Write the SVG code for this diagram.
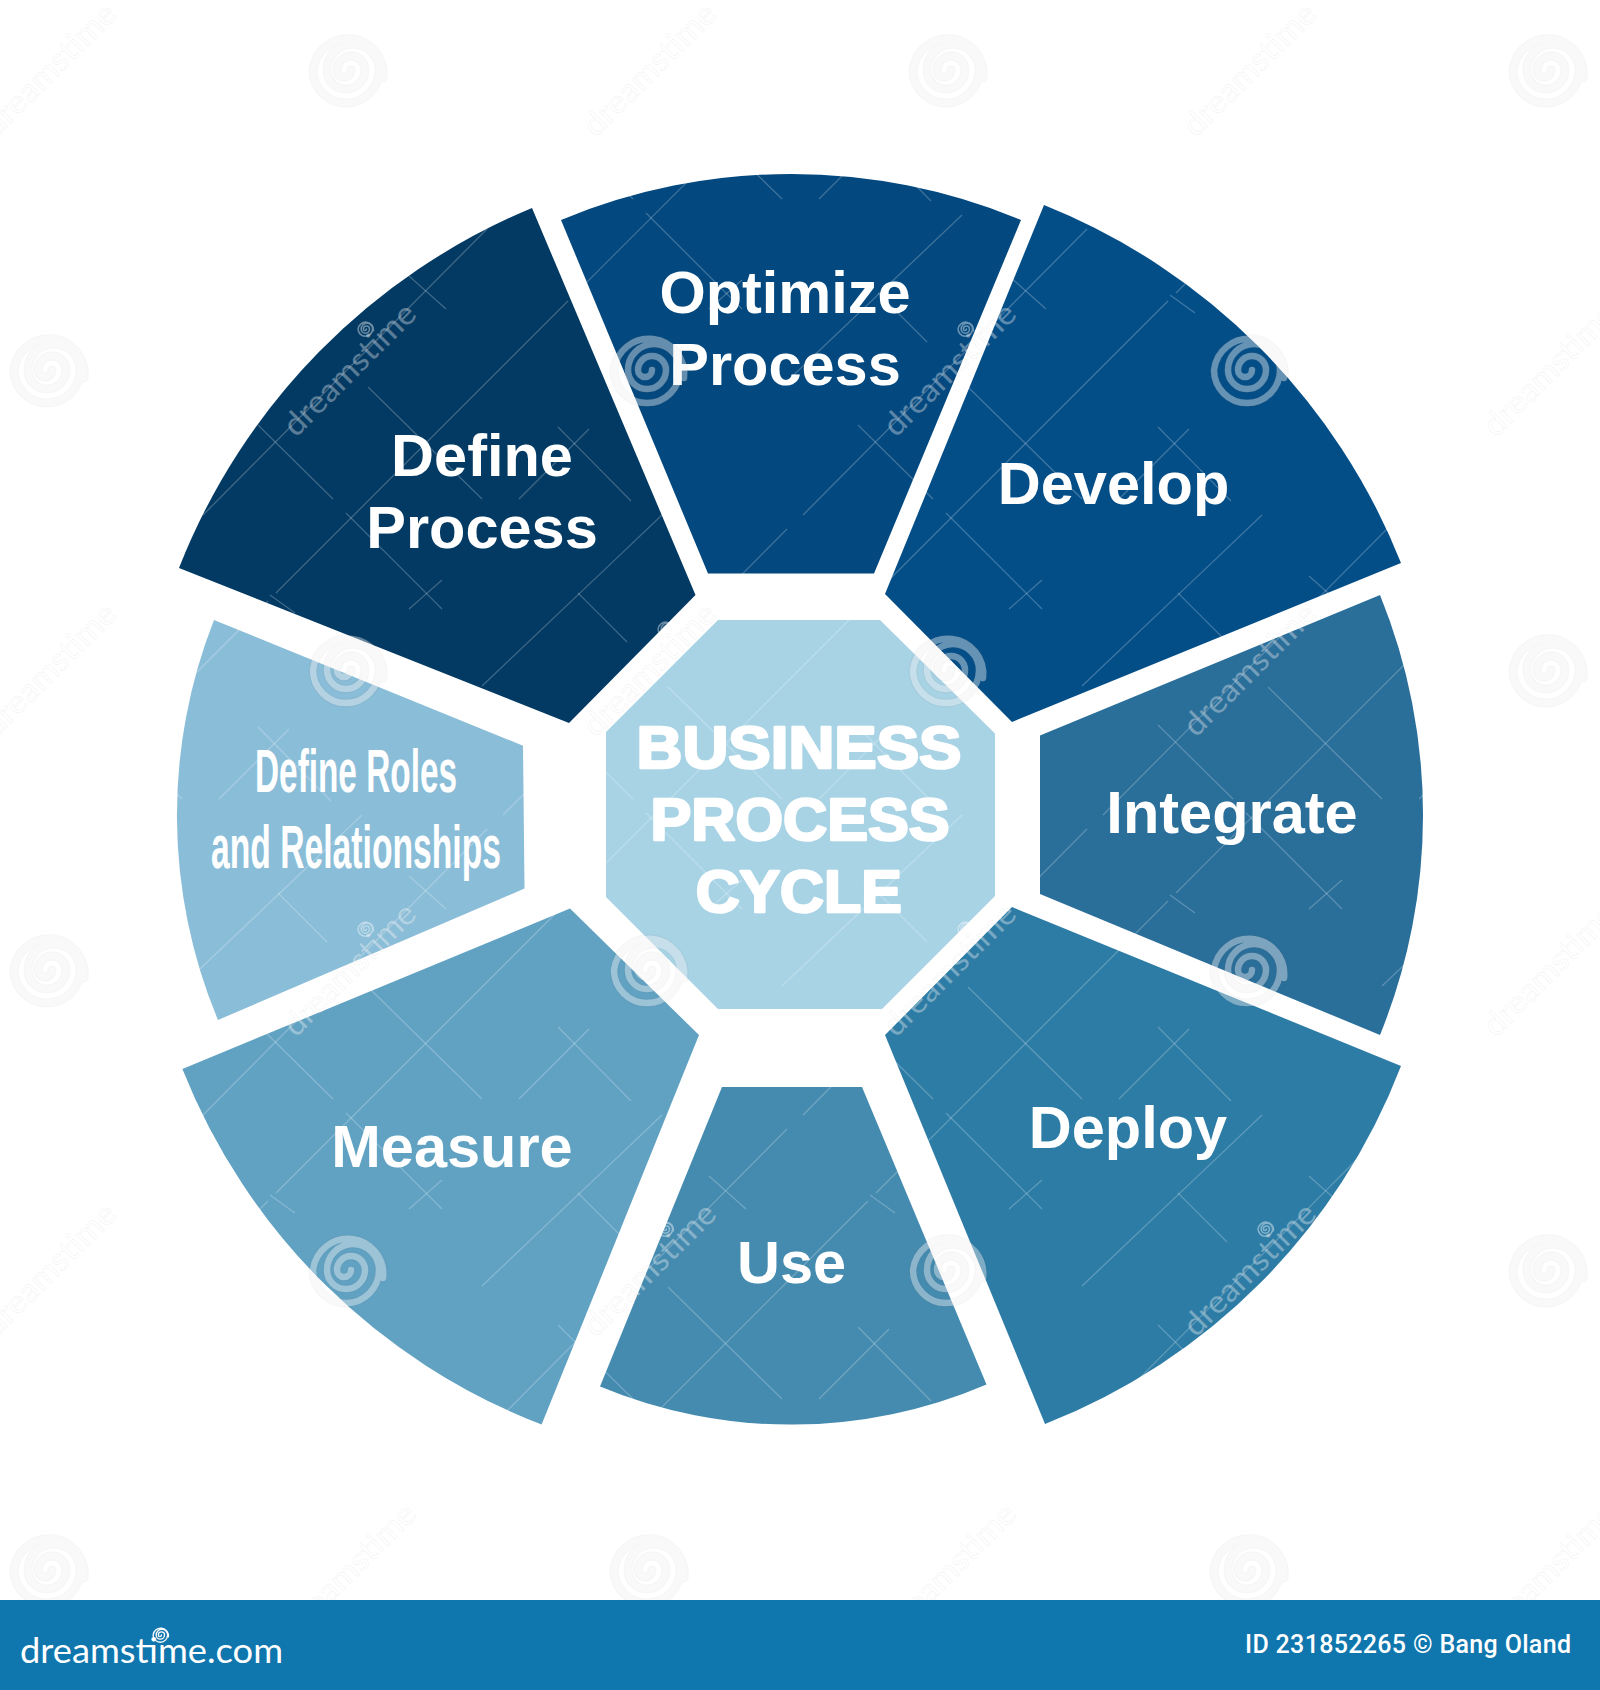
<svg xmlns="http://www.w3.org/2000/svg" width="1600" height="1690" viewBox="0 0 1600 1690">
<style>
.lbl{font-family:"Liberation Sans",Arial,sans-serif;font-weight:700;font-size:59.5px;fill:#fff;text-anchor:middle}
.cond{font-size:62px}
.hub{font-size:59px;stroke:#fff;stroke-width:2.6px;stroke-linejoin:round;paint-order:stroke}
.wm{font-family:Lato,"Open Sans",sans-serif;font-weight:400;font-size:32px;fill:#fff;fill-opacity:.36;stroke:#777;stroke-opacity:.07;stroke-width:1px;text-anchor:middle}
.sp{fill:none;stroke-linecap:round}
.grid line{stroke:#fff;stroke-opacity:.24;stroke-width:1.1}
</style>
<defs>
<path id="sp" d="M2 0A7 7 0 0 1-12 0A14 14 0 0 1 16 0A19 19 0 0 1-22 0A26 26 0 0 1 30 0A33 33 0 0 1-36 0A35 35 0 0 1 34 8"/>
<g id="spiral">
<use href="#sp" class="sp" stroke="#666" stroke-opacity=".06" stroke-width="9"/>
<use href="#sp" class="sp" stroke="#fff" stroke-opacity=".38" stroke-width="6.5"/>
</g>
<g id="mini"><use href="#sp" class="sp" stroke="#fff" stroke-opacity=".42" stroke-width="7" transform="scale(.22)"/></g>
<g id="cell" class="grid">
<line x1="203" y1="515" x2="487" y2="229"/>
<line x1="276" y1="593" x2="568" y2="301"/>
<line x1="519" y1="499" x2="589" y2="429"/>
<line x1="482" y1="686" x2="662" y2="515"/>
<line x1="409" y1="609" x2="442" y2="580"/>
<line x1="558" y1="427" x2="631" y2="501"/>
<line x1="409" y1="276" x2="446" y2="309"/>
<line x1="368" y1="387" x2="482" y2="499"/>
<line x1="258" y1="425" x2="333" y2="499"/>
<line x1="346" y1="513" x2="442" y2="609"/>
<line x1="578" y1="593" x2="627" y2="642"/>
<line x1="270" y1="595" x2="295" y2="613"/>
</g>
<pattern id="lattice" patternUnits="userSpaceOnUse" width="600" height="600">
<use href="#cell"/><use href="#cell" x="-600"/><use href="#cell" y="-600"/><use href="#cell" x="-600" y="-600"/>
<use href="#cell" x="300" y="300"/><use href="#cell" x="-300" y="300"/><use href="#cell" x="300" y="-300"/><use href="#cell" x="-300" y="-300"/>
</pattern>
</defs>
<rect width="1600" height="1690" fill="#fff"/>
<g id="define-process"><path fill="#033a63" d="M179 568A645 645 0 0 1 532 208L695.5 595L569 723Z"/><text class="lbl" x="482" y="475.5">Define</text><text class="lbl" x="482" y="548">Process</text></g>
<g id="optimize-process"><path fill="#03487e" d="M561 220A598 598 0 0 1 1021 220L874 573.5L708 573.5Z"/><text class="lbl" x="785" y="313">Optimize</text><text class="lbl" x="785" y="385">Process</text></g>
<g id="develop"><path fill="#044e88" d="M1044 205A640 640 0 0 1 1401 563L1012 722L885 594Z"/><text class="lbl" x="1113.5" y="504">Develop</text></g>
<g id="integrate"><path fill="#2a6e9a" d="M1380 595A584 584 0 0 1 1380 1035L1040 894L1040 735.5Z"/><text class="lbl" x="1232" y="832.5">Integrate</text></g>
<g id="deploy"><path fill="#2d7ca6" d="M1401 1066A625 625 0 0 1 1045 1424L885 1035L1012 907Z"/><text class="lbl" x="1128" y="1148">Deploy</text></g>
<g id="use"><path fill="#458bb0" d="M986.5 1384.5A497 497 0 0 1 600 1386.5L722 1087L862 1087Z"/><text class="lbl" x="791.5" y="1283">Use</text></g>
<g id="measure"><path fill="#61a2c3" d="M541.6 1424.5A630 630 0 0 1 182.4 1069L570 908.6L699 1035Z"/><text class="lbl" x="452" y="1167">Measure</text></g>
<g id="define-roles"><path fill="#8abdd8" d="M218 1020A532 532 0 0 1 214 620L523 745.7L524.5 888.6Z"/><text class="lbl cond" x="356" y="792" textLength="202" lengthAdjust="spacingAndGlyphs">Define Roles</text><text class="lbl cond" x="356" y="868" textLength="290" lengthAdjust="spacingAndGlyphs">and Relationships</text></g>
<g id="hub"><path fill="#a8d3e5" d="M718 620L880 620L995 733.5L995 896L882 1009L718 1009L606 897L606 732Z"/><text class="lbl hub" x="799" y="768" textLength="325" lengthAdjust="spacingAndGlyphs">BUSINESS</text><text class="lbl hub" x="800" y="840.4" textLength="299" lengthAdjust="spacingAndGlyphs">PROCESS</text><text class="lbl hub" x="798.7" y="912" textLength="206" lengthAdjust="spacingAndGlyphs">CYCLE</text></g>
<g id="watermark">
<rect width="1600" height="1600" fill="url(#lattice)"/>
<use href="#spiral" x="349" y="70"/><use href="#spiral" x="949" y="70"/><use href="#spiral" x="1549" y="70"/>
<use href="#spiral" x="50" y="370"/><use href="#spiral" x="650" y="370"/><use href="#spiral" x="1250" y="370"/>
<use href="#spiral" x="349" y="670"/><use href="#spiral" x="949" y="670"/><use href="#spiral" x="1549" y="670"/>
<use href="#spiral" x="50" y="970"/><use href="#spiral" x="650" y="970"/><use href="#spiral" x="1250" y="970"/>
<use href="#spiral" x="349" y="1270"/><use href="#spiral" x="949" y="1270"/><use href="#spiral" x="1549" y="1270"/>
<use href="#spiral" x="50" y="1570"/><use href="#spiral" x="650" y="1570"/><use href="#spiral" x="1250" y="1570"/>
<use href="#mini" x="66" y="29"/><use href="#mini" x="666" y="29"/><use href="#mini" x="1266" y="29"/>
<use href="#mini" x="366" y="329"/><use href="#mini" x="966" y="329"/><use href="#mini" x="1566" y="329"/>
<use href="#mini" x="66" y="629"/><use href="#mini" x="666" y="629"/><use href="#mini" x="1266" y="629"/>
<use href="#mini" x="366" y="929"/><use href="#mini" x="966" y="929"/><use href="#mini" x="1566" y="929"/>
<use href="#mini" x="66" y="1229"/><use href="#mini" x="666" y="1229"/><use href="#mini" x="1266" y="1229"/>
<use href="#mini" x="366" y="1529"/><use href="#mini" x="966" y="1529"/><use href="#mini" x="1566" y="1529"/>
<text class="wm" transform="translate(50 70) rotate(-45)" y="10" textLength="173" lengthAdjust="spacingAndGlyphs">dreamstime</text>
<text class="wm" transform="translate(650 70) rotate(-45)" y="10" textLength="173" lengthAdjust="spacingAndGlyphs">dreamstime</text>
<text class="wm" transform="translate(1250 70) rotate(-45)" y="10" textLength="173" lengthAdjust="spacingAndGlyphs">dreamstime</text>
<text class="wm" transform="translate(350 370) rotate(-45)" y="10" textLength="173" lengthAdjust="spacingAndGlyphs">dreamstime</text>
<text class="wm" transform="translate(950 370) rotate(-45)" y="10" textLength="173" lengthAdjust="spacingAndGlyphs">dreamstime</text>
<text class="wm" transform="translate(1550 370) rotate(-45)" y="10" textLength="173" lengthAdjust="spacingAndGlyphs">dreamstime</text>
<text class="wm" transform="translate(50 670) rotate(-45)" y="10" textLength="173" lengthAdjust="spacingAndGlyphs">dreamstime</text>
<text class="wm" transform="translate(650 670) rotate(-45)" y="10" textLength="173" lengthAdjust="spacingAndGlyphs">dreamstime</text>
<text class="wm" transform="translate(1250 670) rotate(-45)" y="10" textLength="173" lengthAdjust="spacingAndGlyphs">dreamstime</text>
<text class="wm" transform="translate(350 970) rotate(-45)" y="10" textLength="173" lengthAdjust="spacingAndGlyphs">dreamstime</text>
<text class="wm" transform="translate(950 970) rotate(-45)" y="10" textLength="173" lengthAdjust="spacingAndGlyphs">dreamstime</text>
<text class="wm" transform="translate(1550 970) rotate(-45)" y="10" textLength="173" lengthAdjust="spacingAndGlyphs">dreamstime</text>
<text class="wm" transform="translate(50 1270) rotate(-45)" y="10" textLength="173" lengthAdjust="spacingAndGlyphs">dreamstime</text>
<text class="wm" transform="translate(650 1270) rotate(-45)" y="10" textLength="173" lengthAdjust="spacingAndGlyphs">dreamstime</text>
<text class="wm" transform="translate(1250 1270) rotate(-45)" y="10" textLength="173" lengthAdjust="spacingAndGlyphs">dreamstime</text>
<text class="wm" transform="translate(350 1570) rotate(-45)" y="10" textLength="173" lengthAdjust="spacingAndGlyphs">dreamstime</text>
<text class="wm" transform="translate(950 1570) rotate(-45)" y="10" textLength="173" lengthAdjust="spacingAndGlyphs">dreamstime</text>
<text class="wm" transform="translate(1550 1570) rotate(-45)" y="10" textLength="173" lengthAdjust="spacingAndGlyphs">dreamstime</text>
</g>
<g id="footer">
<rect y="1600" width="1600" height="90" fill="#1076ae"/>
<text x="20" y="1663" font-family="Lato,sans-serif" font-size="35" fill="#fff" textLength="263" lengthAdjust="spacingAndGlyphs">dreamstime.com</text>
<use href="#sp" class="sp" stroke="#fff" stroke-width="6" transform="translate(161 1635) scale(.22)"/>
<text x="1245" y="1653" font-family="Roboto,sans-serif" font-weight="500" font-size="25" fill="#fff" textLength="326" lengthAdjust="spacing">ID 231852265 © Bang Oland</text>
</g>
</svg>
